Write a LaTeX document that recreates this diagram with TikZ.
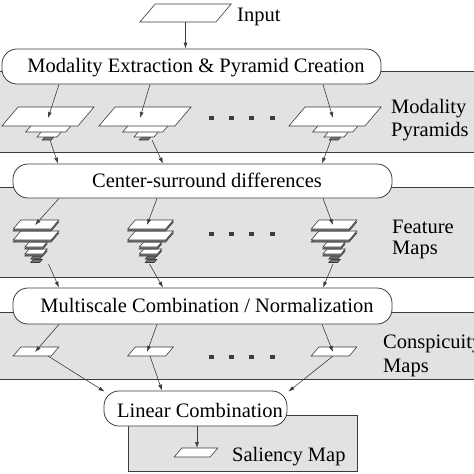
\documentclass[tikz,border=0pt]{standalone}
\usepackage{fontspec}
\setmainfont{Liberation Serif}
\usetikzlibrary{arrows.meta, calc, positioning}
\definecolor{lineC}{RGB}{60,60,60}
\definecolor{bandC}{RGB}{226,226,226}
\definecolor{slabC}{RGB}{115,115,115}
\newcommand{\bigfont}{\fontsize{20.5}{23}\selectfont}
\tikzset{
    stage/.style={draw=lineC, fill=white, line width=0.8pt, rounded corners=15pt, inner sep=0pt, font=\bigfont, text height=14pt, text depth=2pt, execute at begin node={\hspace*{9pt}}},
    band/.style={draw=lineC, fill=bandC, line width=0.8pt},
    planeEdge/.style={draw=lineC, line width=0.6pt},
    link/.style={->, >={Latex[length=6pt, width=4pt]}, draw=lineC, line width=0.6pt},
    sideText/.style={anchor=base west, inner sep=0pt, font=\bigfont},
}
% parallelogram: [fill]{name}{cx}{cy}{side}{height}
\newcommand{\drawPlane}[6][white]{
    \pgfmathsetmacro{\pa}{#5/2+0.425*#6}
    \pgfmathsetmacro{\pc}{#5/2-0.425*#6}
    \pgfmathsetmacro{\pb}{#6/2}
    \coordinate (#2) at (#3,#4);
    \coordinate (#2-n) at (#3,#4-\pb);
    \coordinate (#2-s) at (#3,#4+\pb);
    \draw[planeEdge, fill=#1, shift={(#3,#4)}] (-\pa,\pb) -- (\pc,\pb) -- (\pa,-\pb) -- (-\pc,-\pb) -- cycle;
}
% plane with a grey edge under it
\newcommand{\drawSlab}[5]{
    \drawPlane[slabC]{#1x}{#2}{#3+2}{#4}{#5}
    \drawPlane{#1}{#2}{#3}{#4}{#5}
}
\newcommand{\drawPyramid}[2]{
    \drawPlane[slabC]{#1-3}{#2}{138.5}{9}{3}
    \drawPlane{#1-2}{#2+1.5}{134}{20}{6}
    \drawPlane{#1-1}{#2+2}{127}{40}{10}
    \drawPlane{#1}{#2}{116.5}{76}{19}
}
\newcommand{\drawStack}[2]{
    \drawPlane[slabC]{#1-5}{#2+0.5}{261}{9}{3}
    \drawPlane[slabC]{#1-4}{#2+0.5}{257.5}{9}{3}
    \drawSlab{#1-3}{#2}{251.5}{18}{5}
    \drawSlab{#1-2}{#2}{244.5}{18}{5}
    \drawSlab{#1-1}{#2}{235.5}{38}{9}
    \drawSlab{#1}{#2}{224.5}{38}{9}
}

\begin{document}
\begin{tikzpicture}[x=1pt, y=-1pt]
    \useasboundingbox (0,0) rectangle (474,474);

    % grey bands
    \draw[band] (-2,71) rectangle (476,152);
    \draw[band] (-2,187) rectangle (476,277);
    \draw[band] (-2,312) rectangle (476,379);
    \draw[band] (128,415) rectangle (357,471);

    % input
    \drawPlane{inp}{185.5}{13}{76}{18}
    \node[sideText] (inpText) at (237,21) {Input};

    % stages
    \node[stage, minimum width=379pt, minimum height=35pt] (box1) at (191.5,66.5) {Modality Extraction \& Pyramid Creation};
    \node[stage, minimum width=379pt, minimum height=34pt] (box2) at (202.5,181) {Center-surround differences};
    \node[stage, minimum width=379pt, minimum height=36pt] (box3) at (202.5,306) {Multiscale Combination / Normalization};
    \node[stage, minimum width=183pt, minimum height=35pt, text height=18pt, text depth=0pt] (box4) at (195.5,408.5) {Linear Combination};

    % maps
    \drawPyramid{p1}{48}
    \drawPyramid{p2}{145}
    \drawPyramid{p3}{335}
    \drawStack{f1}{36}
    \drawStack{f2}{150.5}
    \drawStack{f3}{334}
    \drawPlane{c1}{36}{351.5}{38}{9}
    \drawPlane{c2}{150.5}{351.5}{38}{9}
    \drawPlane{c3}{334}{351.5}{38}{9}
    \drawPlane{sal}{196}{452.5}{36}{9}

    % dots
    \foreach \y in {118, 234, 357}
        \foreach \x in {211, 231, 251.5, 272}
            \fill[lineC] (\x-2.5,\y-2) rectangle (\x+2.5,\y+2);

    % labels
    \node[sideText] (modA) at (391,113.3) {Modality};
    \node[sideText] (modB) at (391,136.7) {Pyramids};
    \node[sideText] (featA) at (392,233.3) {Feature};
    \node[sideText] (featB) at (392,254.5) {Maps};
    \node[sideText] (consA) at (383,348.3) {Conspicuity};
    \node[sideText] (consB) at (383,372.3) {Maps};
    \node[sideText] (salText) at (232,461.5) {Saliency Map};

    % links
    \draw[link] (inp-s) -- (box1.north -| inp-s);

    \draw[link] ($(box1.south -| p1)+(11,0)$) -- ($(p1)+(0,1.5)$);
    \draw[link] ($(box1.south -| p2)+(5,0)$) -- ($(p2)+(-5,1.5)$);
    \draw[link] ($(box1.south -| p3)+(-12,0)$) -- ($(p3)+(-2,1.5)$);

    \draw[link] ($(p1-3-s)+(2,0)$) -- ($(box2.north -| p1)+(10,0)$);
    \draw[link] ($(p2-3-s)+(7,0)$) -- ($(box2.north -| p2)+(18,0)$);
    \draw[link] ($(p3-3-s)+(-4,0)$) -- ($(box2.north -| p3)+(-13,0)$);

    \draw[link] ($(box2.south -| f1)+(23,0)$) -- ($(f1)+(-1,0.5)$);
    \draw[link] ($(box2.south -| f2)+(6.5,0)$) -- ($(f2)+(-3.5,0.5)$);
    \draw[link] ($(box2.south -| f3)+(-11,0)$) -- ($(f3)+(-1,0.5)$);

    \draw[link] ($(f1-5-s)+(12,1.5)$) -- ($(box3.north -| f1)+(23,0)$);
    \draw[link] ($(f2-5-s)+(-1.5,1.5)$) -- ($(box3.north -| f2)+(12.5,0)$);
    \draw[link] ($(f3-5-s)+(-1.5,1.5)$) -- ($(box3.north -| f3)+(-11,0)$);

    \draw[link] ($(box3.south -| c1)+(23,0)$) -- ($(c1)+(-1,0.5)$);
    \draw[link] ($(box3.south -| c2)+(6.5,0)$) -- ($(c2)+(-3.5,0.5)$);
    \draw[link] ($(box3.south -| c3)+(-12,0)$) -- ($(c3)+(-1,0.5)$);

    \draw[link] ($(c1-s)+(12,0)$) -- ($(box4.north west)+(1,1)$);
    \draw[link] ($(c2-s)+(-0.5,0)$) -- ($(box4.north -| c2)+(11.5,0)$);
    \draw[link] ($(c3-s)+(-1,0)$) -- ($(box4.north east)+(1,1)$);

    \draw[link] ($(box4.south -| sal)+(1,0)$) -- ($(sal-n)+(1,0)$);
\end{tikzpicture}
\end{document}
